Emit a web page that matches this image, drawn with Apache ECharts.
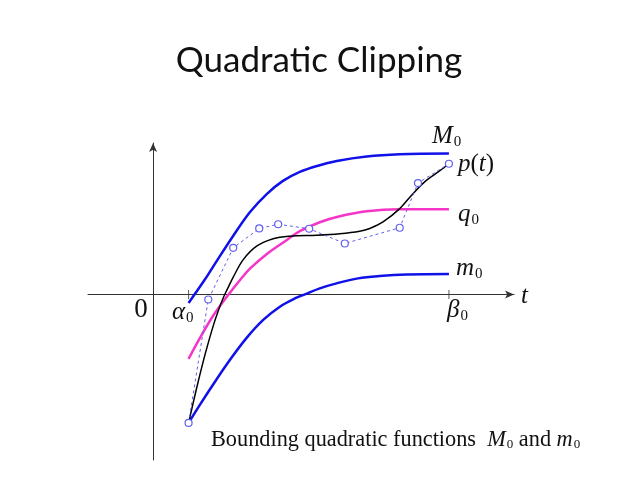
<!DOCTYPE html>
<html><head><meta charset="utf-8">
<script src="https://cdn.jsdelivr.net/npm/echarts@6/dist/echarts.min.js"></script>
<style>html,body{margin:0;padding:0;background:#fff}#c{width:638px;height:478px}</style>
</head><body><div id="c"></div>
<script>
// Parameter interval
const alpha0 = 0.12;
const beta0 = 1.0;
const tickPositions = [alpha0, beta0];

// Upper bounding function M0
const tM0 = [0.12, 0.175, 0.216, 0.27, 0.327, 0.385, 0.439, 0.496, 0.554, 0.621, 0.722, 0.834, 1.0];
const vM0 = [-0.085, 0.15, 0.34, 0.585, 0.825, 1.01, 1.14, 1.23, 1.29, 1.34, 1.385, 1.407, 1.415];

// Lower bounding function m0
const tm0 = [0.12, 0.1586, 0.2025, 0.26, 0.3162, 0.3723, 0.4286, 0.485, 0.513, 0.5636, 0.62, 0.693, 0.766, 0.857, 1.0];
const vm0 = [-1.288, -1.105, -0.905, -0.655, -0.435, -0.255, -0.122, -0.032, 0.002, 0.062, 0.112, 0.162, 0.185, 0.2, 0.205];

// Quadratic approximation q0
const tq0 = [0.12, 0.1586, 0.2025, 0.2565, 0.2994, 0.3274, 0.3837, 0.4512, 0.4961, 0.5636, 0.6311, 0.7222, 0.8336, 1.0];
const vq0 = [-0.645, -0.435, -0.215, 0.005, 0.165, 0.26, 0.405, 0.545, 0.635, 0.725, 0.785, 0.835, 0.855, 0.855];

// Polynomial p(t)
const tp = [0.12, 0.1475, 0.1755, 0.2035, 0.2204, 0.2373, 0.2531, 0.271, 0.3048, 0.35, 0.406, 0.4624, 0.5535, 0.6311, 0.6986, 0.7324, 0.7773, 0.8336, 0.8785, 0.9237, 0.9686, 1.0];
const vp = [-1.288, -0.935, -0.603, -0.312, -0.162, -0.032, 0.067, 0.175, 0.35, 0.485, 0.56, 0.585, 0.595, 0.61, 0.635, 0.662, 0.728, 0.862, 1.012, 1.145, 1.24, 1.312];

// Control polygon
const tCtrl = [0.12, 0.1866, 0.271, 0.3588, 0.4229, 0.5275, 0.648, 0.8336, 0.8954, 1.0];
const vCtrl = [-1.288, -0.05, 0.468, 0.663, 0.705, 0.66, 0.512, 0.67, 1.118, 1.312];

const pairs = (t, v) => t.map((x, i) => [x, v[i]]);
const serif = "'Liberation Serif', 'DejaVu Serif', serif";
const BLUE = '#1010e8';
const MAGENTA = '#f535c8';
const DASH = '#6060f0';

const chart = echarts.init(document.getElementById('c'));

const it = (size) => ({fontStyle: 'italic', fontSize: size, fontFamily: serif, fill: '#111'});
const up = (size) => ({fontSize: size, fontFamily: serif, fill: '#111'});
const sub = (size, pad) => ({fontSize: size, fontFamily: serif, fill: '#111', padding: [pad, 0, 0, 1]});

function label(x, y, text, align) {
  return {
    type: 'text', x: x, y: y, silent: true,
    style: {
      text: text, textAlign: align || 'left', textVerticalAlign: 'middle',
      rich: {i: it(25), s: sub(15, 12), r: up(25), z: up(27), c: up(22.3), ci: it(22.3), cs: sub(13, 10)}
    }
  };
}

const lineSeries = (name, t, v, color, width) => ({
  name: name, type: 'line', data: pairs(t, v), showSymbol: false, symbol: 'none',
  smooth: 0.35,
  lineStyle: {color: color, width: width}, silent: true, z: 3
});

chart.setOption({
  animation: false,
  backgroundColor: '#fff',
  grid: {left: 88, right: 124, top: 143, bottom: 18},
  xAxis: {
    type: 'value', min: -0.22, max: 1.22,
    axisLine: {onZero: true, symbol: ['none', 'arrow'], symbolSize: [6, 9], lineStyle: {color: '#333', width: 1}},
    axisTick: {show: false}, axisLabel: {show: false}, splitLine: {show: false}
  },
  yAxis: {
    type: 'value', min: -1.66, max: 1.52,
    axisLine: {onZero: true, symbol: ['none', 'arrow'], symbolSize: [6, 9], lineStyle: {color: '#333', width: 1}},
    axisTick: {show: false}, axisLabel: {show: false}, splitLine: {show: false}
  },
  series: [
    lineSeries('M0', tM0, vM0, BLUE, 2.5),
    lineSeries('m0', tm0, vm0, BLUE, 2.5),
    lineSeries('q0', tq0, vq0, MAGENTA, 2.5),
    {
      name: 'control', type: 'line', data: pairs(tCtrl, vCtrl),
      symbol: 'circle', symbolSize: 7, showSymbol: true,
      lineStyle: {color: DASH, width: 1, type: [3, 3]},
      itemStyle: {color: '#fff', borderColor: DASH, borderWidth: 1.2},
      silent: true, z: 4
    },
    lineSeries('p', tp, vp, '#000', 1.5),
    {
      name: 'ticks', type: 'scatter', data: tickPositions.map(t => [t, 0]),
      symbol: 'rect', symbolSize: [1, 9], itemStyle: {color: '#333'}, silent: true, z: 2
    }
  ],
  graphic: [
    {type: 'text', x: 319, y: 61, silent: true,
     style: {text: 'Quadratic Clipping', textAlign: 'center', textVerticalAlign: 'middle',
             fontFamily: 'Lato', fontSize: 35, fill: '#111'}},
    label(141, 310, '{z|0}', 'center'),
    label(172, 312, '{i|α}{s|0}'),
    label(447, 310, '{i|β}{s|0}'),
    label(521, 296, '{i|t}'),
    label(432, 136, '{i|M}{s|0}'),
    label(458, 164, '{i|p}{r|(}{i|t}{r|)}'),
    label(458, 214, '{i|q}{s|0}'),
    label(456, 268, '{i|m}{s|0}'),
    label(211, 440, '{c|Bounding quadratic functions  }{ci|M}{cs|0}{c| and }{ci|m}{cs|0}')
  ]
});
</script>
</body></html>
